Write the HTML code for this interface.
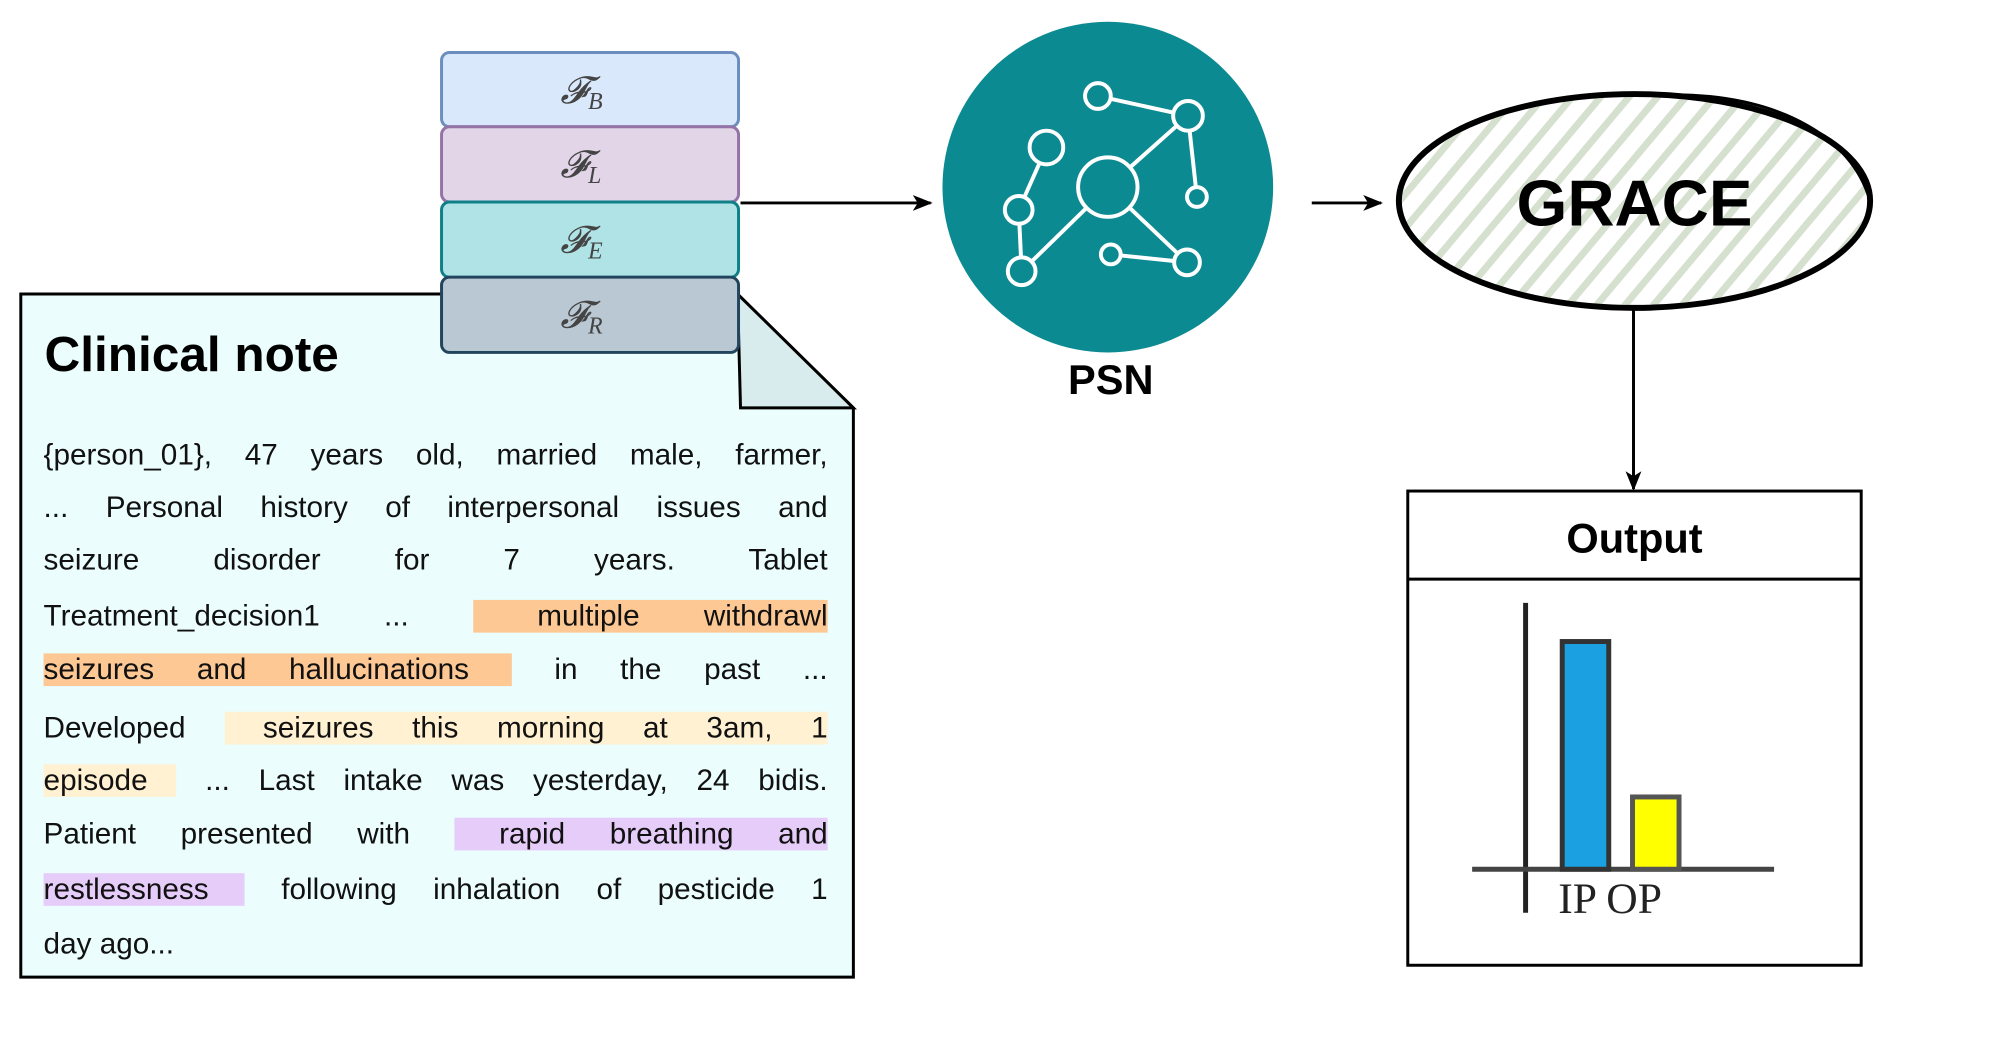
<!DOCTYPE html>
<html><head><meta charset="utf-8"><style>
html,body{margin:0;padding:0;background:#fff;overflow:hidden;width:2007px;height:1052px}
#wrap{position:absolute;left:0;top:0;width:2007px;height:1052px;transform:scale(0.99);transform-origin:0 0}
svg{display:block;position:absolute;left:0;top:0}
.note{position:absolute;left:44px;top:0;width:792px;font-family:"Liberation Sans",sans-serif;font-size:30px;color:#111;}
.ln{position:absolute;left:0;width:792px;height:48px;line-height:48px;text-align:justify;text-align-last:justify;white-space:nowrap;}
.o{background:#fdc894}.y{background:#fff1d2}.p{background:#e5ccf9}
</style></head><body><div id="wrap">
<svg width="2007" height="1052" viewBox="0 0 2007 1052" xmlns="http://www.w3.org/2000/svg">
<defs>
<pattern id="hatch" patternUnits="userSpaceOnUse" width="22" height="22" patternTransform="rotate(40)">
<rect width="22" height="22" fill="#fff"/>
<rect width="7" height="22" fill="#d5e0cf"/>
</pattern>
<marker id="ah" markerWidth="20" markerHeight="20" refX="18" refY="10" orient="auto" markerUnits="userSpaceOnUse">
<path d="M0,2 L20,10 L0,18 L5,10 z" fill="#000"/>
</marker>
</defs>

<path d="M21,297 L745,297 L862,412 L862,987 L21,987 Z" fill="#ebfdfd" stroke="#000" stroke-width="3"/>
<path d="M745,297 L862,412 L748,412 Z" fill="#d8eced" stroke="#000" stroke-width="3"/>
<text x="45" y="375" font-family="Liberation Sans,sans-serif" font-size="50" font-weight="bold">Clinical note</text>

<g font-family="Liberation Serif,serif" font-style="italic" fill="#444">
<rect x="446" y="53" width="300" height="75" rx="8" fill="#dae8fc" stroke="#6c8ebf" stroke-width="3"/>
<text x="566" y="104" font-size="38">𝓕<tspan font-size="24" dy="6">B</tspan></text>
<rect x="446" y="128" width="300" height="76" rx="8" fill="#e1d5e7" stroke="#9673a6" stroke-width="3"/>
<text x="566" y="179" font-size="38">𝓕<tspan font-size="24" dy="6">L</tspan></text>
<rect x="446" y="204" width="300" height="76" rx="8" fill="#b0e3e6" stroke="#0e8088" stroke-width="3"/>
<text x="566" y="255" font-size="38">𝓕<tspan font-size="24" dy="6">E</tspan></text>
<rect x="446" y="280" width="300" height="76" rx="8" fill="#bac8d3" stroke="#23445d" stroke-width="3"/>
<text x="566" y="331" font-size="38">𝓕<tspan font-size="24" dy="6">R</tspan></text>
</g>

<line x1="748" y1="205" x2="940" y2="205" stroke="#000" stroke-width="3" marker-end="url(#ah)"/>

<circle cx="1119" cy="189" r="167" fill="#0b8a91"/>
<g stroke="#fff" stroke-width="4" fill="none" transform="translate(12,-3)">
<line x1="1097" y1="100" x2="1188" y2="120"/>
<line x1="1188" y1="120" x2="1107" y2="192"/>
<line x1="1188" y1="120" x2="1197" y2="202"/>
<line x1="1045" y1="152" x2="1017" y2="215"/>
<line x1="1017" y1="215" x2="1020" y2="277"/>
<line x1="1020" y1="277" x2="1107" y2="192"/>
<line x1="1107" y1="192" x2="1187" y2="268"/>
<line x1="1110" y1="260" x2="1187" y2="268"/>
<circle cx="1107" cy="192" r="30" fill="#0b8a91"/>
<circle cx="1097" cy="100" r="13" fill="#0b8a91"/>
<circle cx="1188" cy="120" r="15" fill="#0b8a91"/>
<circle cx="1045" cy="152" r="17" fill="#0b8a91"/>
<circle cx="1017" cy="215" r="14" fill="#0b8a91"/>
<circle cx="1020" cy="277" r="14" fill="#0b8a91"/>
<circle cx="1197" cy="202" r="10" fill="#0b8a91"/>
<circle cx="1110" cy="260" r="10" fill="#0b8a91"/>
<circle cx="1187" cy="268" r="13" fill="#0b8a91"/>
</g>
<text x="1122" y="398" font-family="Liberation Sans,sans-serif" font-size="42" font-weight="bold" text-anchor="middle">PSN</text>

<line x1="1325" y1="205" x2="1395" y2="205" stroke="#000" stroke-width="3" marker-end="url(#ah)"/>

<ellipse cx="1651" cy="203" rx="238" ry="108" fill="url(#hatch)" stroke="#000" stroke-width="6"/>
<path d="M1700,96 C1800,98 1870,140 1888,200" fill="none" stroke="#000" stroke-width="3"/>
<text x="1651" y="228" font-family="Liberation Sans,sans-serif" font-size="66" font-weight="bold" text-anchor="middle">GRACE</text>

<line x1="1650" y1="313" x2="1650" y2="494" stroke="#000" stroke-width="3" marker-end="url(#ah)"/>

<rect x="1422" y="496" width="458" height="479" fill="#fff" stroke="#000" stroke-width="3"/>
<line x1="1422" y1="585" x2="1880" y2="585" stroke="#000" stroke-width="3"/>
<text x="1651" y="558" font-family="Liberation Sans,sans-serif" font-size="42" font-weight="bold" text-anchor="middle">Output</text>
<line x1="1541" y1="609" x2="1541" y2="922" stroke="#222" stroke-width="5"/>
<line x1="1487" y1="878" x2="1792" y2="878" stroke="#444" stroke-width="5"/>
<rect x="1578" y="648" width="47" height="230" fill="#1ba1e2" stroke="#333" stroke-width="5"/>
<rect x="1649" y="805" width="47" height="73" fill="#ffff00" stroke="#555" stroke-width="5"/>
<text x="1574" y="922" font-family="Liberation Serif,serif" font-size="44" fill="#222">IP OP</text>
</svg>

<div class="note">
<div class="ln" style="top:436px">{person_01}, 47 years old, married male, farmer,</div>
<div class="ln" style="top:489px">... Personal history of interpersonal issues and</div>
<div class="ln" style="top:542px">seizure disorder for 7 years. Tablet</div>
<div class="ln" style="top:599px">Treatment_decision1 ... <span class="o">&nbsp;multiple withdrawl</span></div>
<div class="ln" style="top:653px"><span class="o">seizures and hallucinations&nbsp;</span> in the past ...</div>
<div class="ln" style="top:712px">Developed <span class="y">&nbsp;seizures this morning at 3am, 1</span></div>
<div class="ln" style="top:765px"><span class="y">episode&nbsp;</span> ... Last intake was yesterday, 24 bidis.</div>
<div class="ln" style="top:819px">Patient presented with <span class="p">&nbsp;rapid breathing and</span></div>
<div class="ln" style="top:875px"><span class="p">restlessness&nbsp;</span> following inhalation of pesticide 1</div>
<div class="ln" style="top:930px;text-align:left;text-align-last:left">day ago...</div>
</div>
</div></body></html>
